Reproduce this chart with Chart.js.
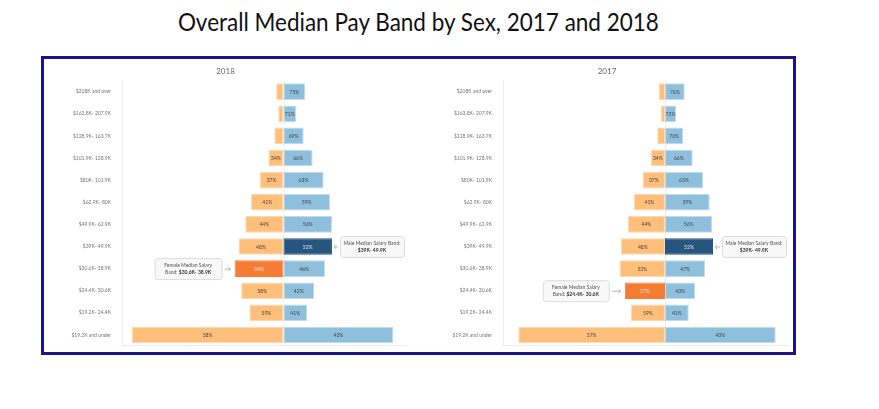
<!DOCTYPE html>
<html>
<head>
<meta charset="utf-8">
<title>Overall Median Pay Band by Sex, 2017 and 2018</title>
<script src="https://cdn.jsdelivr.net/npm/chart.js@4.4.1/dist/chart.umd.min.js"></script>
<style>
  body { margin: 0; background: #fff; }
  #page { position: relative; width: 879px; height: 409px; overflow: hidden; }
  #title {
    position: absolute; left: 0; width: 837px; top: 6px;
    text-align: center; font-family: Lato, sans-serif; font-size: 25px;
    line-height: 30px; color: #111; white-space: nowrap;
  }
  #title span { display: inline-block; transform-origin: center; }
  #frame {
    position: absolute; left: 41px; top: 56px; width: 755px; height: 299px;
    box-sizing: border-box; border: 3px solid #1c1488;
  }
  .panel { position: absolute; top: 0; height: 293px; }
  #p2018 { left: 0; width: 374px; }
  #p2017 { left: 381px; width: 368px; }
</style>
</head>
<body>
<div id="page">
  <div id="title"><span>Overall Median Pay Band by Sex, 2017 and 2018</span></div>
  <div id="frame">
    <div class="panel" id="p2018"><canvas id="chart2018"></canvas></div>
    <div class="panel" id="p2017"><canvas id="chart2017"></canvas></div>
  </div>
</div>
<script>
// pay bands, top to bottom
const payBands = ['$208K and over', '$163.8K- 207.9K', '$128.9K- 163.7K', '$101.9K- 128.9K',
  '$80K- 101.9K', '$62.9K- 80K', '$49.9K- 62.9K', '$39K- 49.9K', '$30.6K- 38.9K',
  '$24.4K- 30.6K', '$19.2K- 24.4K', '$19.2K and under'];

// headcount per band
const female2018 = [73, 52, 91, 151, 237, 325, 383, 450, 490, 424, 341, 1523];
const male2018   = [220, 127, 203, 293, 403, 467, 487, 487, 417, 307, 237, 1103];
const female2017 = [62, 43, 78, 143, 223, 311, 372, 443, 454, 402, 341, 1467];
const male2017   = [197, 110, 183, 277, 380, 447, 473, 480, 403, 303, 237, 1107];

// median band rows
const femaleMedian2018 = 8, maleMedian2018 = 7;
const femaleMedian2017 = 9, maleMedian2017 = 7;

const axisMin = -1620, axisMax = 1240;

const FONT = 'Lato, sans-serif';
const femaleColor = '#ffbf7b', femaleDark = '#f57c33';
const maleColor = '#8ebfdd', maleDark = '#26557f';

// fit title width
const tspan = document.querySelector('#title span');
tspan.style.transform = 'scaleX(' + (481 / tspan.getBoundingClientRect().width) + ')';

// center line + bottom line
const guideLines = {
  id: 'guideLines',
  beforeDatasetsDraw(chart) {
    const { ctx, chartArea: a, scales } = chart;
    const x0 = scales.x.getPixelForValue(0);
    ctx.save();
    ctx.strokeStyle = '#ececec';
    ctx.lineWidth = 1;
    ctx.beginPath();
    ctx.moveTo(x0 + 0.5, a.top);
    ctx.lineTo(x0 + 0.5, a.bottom);
    ctx.moveTo(a.left, a.bottom - 0.5);
    ctx.lineTo(a.right, a.bottom - 0.5);
    ctx.stroke();
    ctx.restore();
  }
};

// percentage labels inside the bars
const barLabels = {
  id: 'barLabels',
  afterDatasetsDraw(chart) {
    const { ctx } = chart;
    const f = chart.data.datasets[0].raw, m = chart.data.datasets[1].raw;
    const med = chart.options.plugins.medianNotes;
    ctx.save();
    ctx.font = '5px ' + FONT;
    ctx.textAlign = 'center';
    ctx.textBaseline = 'middle';
    chart.data.datasets.forEach((ds, di) => {
      chart.getDatasetMeta(di).data.forEach((el, i) => {
        const own = di === 0 ? f[i] : m[i];
        if (di === 0 && own < 120) return;
        const pct = Math.round(own / (f[i] + m[i]) * 100);
        const dark = (di === 0 && i === med.femaleRow) || (di === 1 && i === med.maleRow);
        ctx.fillStyle = dark ? '#e8e8e8' : '#444';
        ctx.fillText(pct + '%', (el.x + el.base) / 2, el.y + 0.5);
      });
    });
    ctx.restore();
  }
};

function noteBox(ctx, x, y, w, h, line1, line2a, line2b) {
  ctx.fillStyle = '#f8f8f8';
  ctx.strokeStyle = '#dcdcdc';
  ctx.lineWidth = 1;
  ctx.beginPath();
  ctx.roundRect(x + 0.5, y + 0.5, w, h, 3);
  ctx.fill();
  ctx.stroke();
  ctx.textBaseline = 'middle';
  ctx.fillStyle = '#555';
  ctx.textAlign = 'center';
  ctx.font = '5px ' + FONT;
  ctx.fillText(line1, x + w / 2, y + h / 2 - 3.5);
  const wa = ctx.measureText(line2a).width;
  ctx.font = 'bold 5px ' + FONT;
  const wb = ctx.measureText(line2b).width;
  const sx = x + w / 2 - (wa + wb) / 2;
  ctx.textAlign = 'left';
  ctx.font = '5px ' + FONT;
  ctx.fillText(line2a, sx, y + h / 2 + 3.5);
  ctx.font = 'bold 5px ' + FONT;
  ctx.fillStyle = '#333';
  ctx.fillText(line2b, sx + wa, y + h / 2 + 3.5);
}

function arrow(ctx, from, to, y) {
  const dir = Math.sign(to - from);
  ctx.strokeStyle = '#bbb';
  ctx.lineWidth = 1;
  ctx.beginPath();
  ctx.moveTo(from, y + 0.5);
  ctx.lineTo(to, y + 0.5);
  ctx.moveTo(to - dir * 2.5, y - 1.5);
  ctx.lineTo(to, y + 0.5);
  ctx.lineTo(to - dir * 2.5, y + 2.5);
  ctx.stroke();
}

// callouts for the median bands
const medianNotes = {
  id: 'medianNotes',
  afterDatasetsDraw(chart, args, opts) {
    const { ctx } = chart;
    ctx.save();
    const fEl = chart.getDatasetMeta(0).data[opts.femaleRow];
    const fx = fEl.x - opts.femaleGap - opts.femaleW;
    noteBox(ctx, fx, fEl.y - 10.5, opts.femaleW, 21, 'Female Median Salary', 'Band: ', opts.femaleBand);
    arrow(ctx, fx + opts.femaleW + 3, fEl.x - 4, fEl.y);
    const mEl = chart.getDatasetMeta(1).data[opts.maleRow];
    const mx = mEl.x + opts.maleGap;
    noteBox(ctx, mx, mEl.y - 10.5, 64, 21, 'Male Median Salary Band:', '', opts.maleBand);
    arrow(ctx, mx - 2, mEl.x + 2, mEl.y);
    ctx.restore();
  }
};

function buildChart(id, year, female, male, femaleRow, maleRow, notes, padRight) {
  new Chart(document.getElementById(id), {
    type: 'bar',
    data: {
      labels: payBands,
      datasets: [{
        label: 'Female',
        raw: female,
        data: female.map(v => -v),
        backgroundColor: c => c.dataIndex === femaleRow ? femaleDark : femaleColor,
        borderColor: c => c.dataIndex === femaleRow ? femaleDark : '#ffd8ae',
        borderWidth: 1,
        borderSkipped: false
      }, {
        label: 'Male',
        raw: male,
        data: male,
        backgroundColor: c => c.dataIndex === maleRow ? maleDark : maleColor,
        borderColor: c => c.dataIndex === maleRow ? maleDark : '#c2dcee',
        borderWidth: 1,
        borderSkipped: false
      }]
    },
    options: {
      indexAxis: 'y',
      responsive: true,
      maintainAspectRatio: false,
      animation: false,
      layout: { padding: { left: 0, right: padRight, top: 0, bottom: 2 } },
      datasets: { bar: { categoryPercentage: 1, barPercentage: 0.75 } },
      scales: {
        x: { stacked: true, min: axisMin, max: axisMax, display: false },
        y: {
          stacked: true,
          grid: { display: false },
          border: { display: true, color: '#eeeeee' },
          ticks: { font: { family: FONT, size: 5 }, color: '#777', padding: 3 },
          afterFit: s => { s.width = 78; }
        }
      },
      plugins: {
        legend: { display: false },
        tooltip: { enabled: false },
        title: {
          display: true,
          text: year,
          color: '#666',
          font: { family: FONT, size: 8, weight: 'normal' },
          padding: { top: 8, bottom: 4 }
        },
        medianNotes: Object.assign({ femaleRow: femaleRow, maleRow: maleRow }, notes)
      }
    },
    plugins: [guideLines, barLabels, medianNotes]
  });
}

buildChart('chart2018', '2018', female2018, male2018, femaleMedian2018, maleMedian2018,
  { femaleBand: '$30.6K- 38.9K', maleBand: '$39K- 49.9K', femaleGap: 13, femaleW: 67, maleGap: 8 }, 11);
buildChart('chart2017', '2017', female2017, male2017, femaleMedian2017, maleMedian2017,
  { femaleBand: '$24.4K- 30.6K', maleBand: '$39K- 49.9K', femaleGap: 16, femaleW: 66, maleGap: 9 }, 4);
</script>
</body>
</html>
